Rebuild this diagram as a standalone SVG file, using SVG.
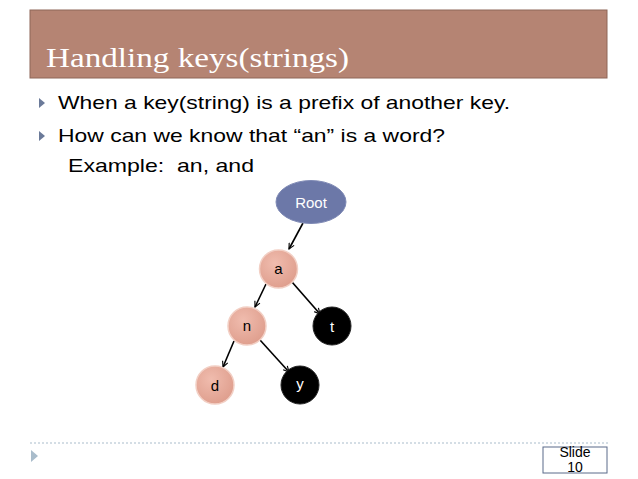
<svg xmlns="http://www.w3.org/2000/svg" width="638" height="479" viewBox="0 0 638 479">
<defs>
<style>
.body{font-family:"Liberation Sans",Arial,sans-serif;font-size:19px;fill:#000}
.lbl{font-family:"Liberation Sans",Arial,sans-serif;font-size:15px;text-anchor:middle}
.sl{font-family:"Liberation Sans",Arial,sans-serif;font-size:14px;text-anchor:middle;fill:#000}
.blk{fill:#000;stroke:#222;stroke-width:1}
.pk{fill:url(#pg);stroke:#f2cfc4;stroke-width:1.5}
.edge{stroke:#000;stroke-width:1.6;fill:none;marker-end:url(#ah)}
</style>
<radialGradient id="pg" cx="0.4" cy="0.35" r="0.7">
<stop offset="0" stop-color="#f0bcae"/><stop offset="1" stop-color="#de9d8c"/>
</radialGradient>
<marker id="ah" viewBox="0 0 10 10" refX="9" refY="5" markerWidth="7" markerHeight="7" orient="auto" markerUnits="userSpaceOnUse">
<path d="M1,1 L9,5 L1,9" fill="none" stroke="#000" stroke-width="1.6"/>
</marker>
</defs>
<rect width="638" height="479" fill="#fff"/>
<g id="title">
<rect x="30" y="10" width="577" height="68" fill="#b58473" stroke="#8e6659" stroke-width="1"/>
<text x="46" y="67" font-family="'Liberation Serif','Times New Roman',serif" font-size="28" fill="#fff" textLength="303" lengthAdjust="spacingAndGlyphs">Handling keys(strings)</text>
</g>
<g id="bullets">
<path d="M39,98 L45,103 L39,108 Z" fill="#6b7a99"/>
<text class="body" x="58" y="109" textLength="452" lengthAdjust="spacingAndGlyphs">When a key(string) is a prefix of another key.</text>
<path d="M39,131 L45,136 L39,141 Z" fill="#6b7a99"/>
<text class="body" x="58" y="141.5" textLength="387" lengthAdjust="spacingAndGlyphs">How can we know that “an” is a word?</text>
<text class="body" x="68" y="172" xml:space="preserve" textLength="186" lengthAdjust="spacingAndGlyphs">Example:  an, and</text>
</g>
<g id="connectors">
<line class="edge" x1="303" y1="223" x2="289" y2="249"/>
<line class="edge" x1="266" y1="284" x2="255" y2="307"/>
<line class="edge" x1="292" y1="282" x2="320" y2="314"/>
<line class="edge" x1="234" y1="341" x2="223" y2="367"/>
<line class="edge" x1="260" y1="340" x2="289" y2="372"/>
</g>
<g id="node-root">
<ellipse cx="311" cy="202" rx="35" ry="21.5" fill="#6c78a8" stroke="#7f8ab5" stroke-width="1"/>
<text class="lbl" x="311" y="207.5" fill="#fff">Root</text>
</g>
<g id="node-a">
<circle cx="278.5" cy="269" r="19" class="pk"/>
<text class="lbl" x="278.5" y="274" fill="#000">a</text>
</g>
<g id="node-n">
<circle cx="247" cy="326" r="19" class="pk"/>
<text class="lbl" x="247" y="331" fill="#000">n</text>
</g>
<g id="node-t">
<circle cx="332" cy="326" r="19" class="blk"/>
<text class="lbl" x="332" y="331.5" fill="#fff">t</text>
</g>
<g id="node-d">
<circle cx="215" cy="385" r="19" class="pk"/>
<text class="lbl" x="215" y="390.5" fill="#000">d</text>
</g>
<g id="node-y">
<circle cx="300" cy="385" r="19" class="blk"/>
<text class="lbl" x="300" y="389" fill="#fff">y</text>
</g>
<g id="footer">
<line x1="30" y1="443" x2="608" y2="443" stroke="#a9bccb" stroke-width="1" stroke-dasharray="2,2"/>
<path d="M31,450 L38,456 L31,462 Z" fill="#a9bccb"/>
<rect x="543" y="447" width="64" height="26" fill="#fff" stroke="#5a6a8a" stroke-width="1"/>
<text class="sl" x="575" y="457">Slide</text>
<text class="sl" x="575" y="472">10</text>
</g>
</svg>
